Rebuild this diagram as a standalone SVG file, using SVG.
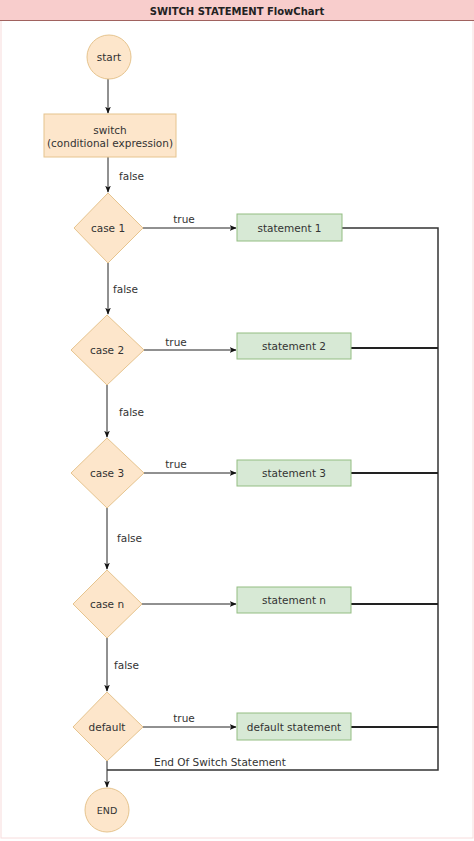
<svg xmlns="http://www.w3.org/2000/svg" width="474" height="841" viewBox="0 0 474 841">
<style>
.t{font-family:"DejaVu Sans",Verdana,sans-serif;font-size:10.5px;fill:#333;text-anchor:middle;dominant-baseline:central}
.l{font-family:"DejaVu Sans",Verdana,sans-serif;font-size:10.5px;fill:#333;dominant-baseline:central}
.o{fill:#fde6cb;stroke:#e6c48e;stroke-width:1}
.g{fill:#d7e9d5;stroke:#93bd82;stroke-width:1}
.c{fill:none;stroke:#222;stroke-width:1}
.k{fill:none;stroke:#222;stroke-width:2}
</style>
<defs>
<marker id="a" viewBox="0 0 10 10" refX="9" refY="5" markerWidth="7" markerHeight="7" markerUnits="userSpaceOnUse" orient="auto">
<path d="M0,1 L10,5 L0,9 L2.5,5 Z" fill="#111"/>
</marker>
</defs>
<rect x="0" y="0" width="474" height="841" fill="#fff"/>
<g id="container">
<rect x="1" y="1" width="472" height="837" fill="#fff" stroke="#f7dcdc" stroke-width="1"/>
<rect x="0" y="0" width="474" height="20" fill="#f8cdcc"/>
<line x1="0" y1="20.5" x2="474" y2="20.5" stroke="#a0625f" stroke-width="1"/>
<text class="t" x="237" y="11" style="font-weight:bold;font-size:10px;fill:#222">SWITCH STATEMENT FlowChart</text>
</g>
<g id="connectors">
<line class="c" x1="108" y1="79" x2="108" y2="113" marker-end="url(#a)"/>
<line class="c" x1="108" y1="157" x2="108" y2="192" marker-end="url(#a)"/>
<line class="c" x1="108" y1="263" x2="108" y2="314" marker-end="url(#a)"/>
<line class="c" x1="107" y1="385" x2="107" y2="437" marker-end="url(#a)"/>
<line class="c" x1="107" y1="508" x2="107" y2="569" marker-end="url(#a)"/>
<line class="c" x1="107" y1="638" x2="107" y2="691" marker-end="url(#a)"/>
<line class="c" x1="107" y1="761" x2="107" y2="787" marker-end="url(#a)"/>
<line class="c" x1="143" y1="228" x2="236" y2="228" marker-end="url(#a)"/>
<line class="c" x1="144" y1="350" x2="236" y2="350" marker-end="url(#a)"/>
<line class="c" x1="144" y1="473" x2="236" y2="473" marker-end="url(#a)"/>
<line class="c" x1="142" y1="604" x2="236" y2="604" marker-end="url(#a)"/>
<line class="c" x1="143" y1="727" x2="236" y2="727" marker-end="url(#a)"/>
<polyline fill="none" stroke="#333" stroke-width="1.5" points="342,228 438,228 438,770 107,770"/>
<line class="k" x1="351" y1="348" x2="438" y2="348"/>
<line class="k" x1="351" y1="473" x2="438" y2="473"/>
<line class="k" x1="351" y1="604" x2="438" y2="604"/>
<line class="k" x1="351" y1="727" x2="438" y2="727"/>
<text class="l" x="119" y="176">false</text>
<text class="l" x="113" y="289">false</text>
<text class="l" x="119" y="412">false</text>
<text class="l" x="117" y="538">false</text>
<text class="l" x="114" y="665">false</text>
<text class="t" x="184" y="219">true</text>
<text class="t" x="176" y="342">true</text>
<text class="t" x="176" y="464">true</text>
<text class="t" x="184" y="718">true</text>
<text class="l" x="154" y="762">End Of Switch Statement</text>
</g>
<g id="start"><circle class="o" cx="109" cy="57" r="22"/><text class="t" x="109" y="57">start</text></g>
<g id="switch"><rect class="o" x="44" y="114" width="132" height="43"/><text class="t" x="110" y="130">switch</text><text class="t" x="110" y="143">(conditional expression)</text></g>
<g id="case1"><polygon class="o" points="108,193 143,228 108,263 74,228"/><text class="t" x="108" y="228">case 1</text></g>
<g id="case2"><polygon class="o" points="107,315 144,350 107,385 71,350"/><text class="t" x="107" y="350">case 2</text></g>
<g id="case3"><polygon class="o" points="107,438 144,473 107,508 71,473"/><text class="t" x="107" y="473">case 3</text></g>
<g id="casen"><polygon class="o" points="107,570 142,604 107,638 73,604"/><text class="t" x="107" y="604">case n</text></g>
<g id="default"><polygon class="o" points="107,692 143,727 107,761 73,727"/><text class="t" x="107" y="727">default</text></g>
<g id="stmt1"><rect class="g" x="237" y="214" width="105" height="27"/><text class="t" x="289.5" y="228">statement 1</text></g>
<g id="stmt2"><rect class="g" x="237" y="333" width="114" height="26"/><text class="t" x="294" y="346">statement 2</text></g>
<g id="stmt3"><rect class="g" x="237" y="460" width="114" height="26"/><text class="t" x="294" y="473">statement 3</text></g>
<g id="stmtn"><rect class="g" x="237" y="587" width="114" height="26"/><text class="t" x="294" y="600">statement n</text></g>
<g id="stmtd"><rect class="g" x="237" y="713" width="114" height="27"/><text class="t" x="294" y="727">default statement</text></g>
<g id="end"><circle class="o" cx="107" cy="810" r="22"/><text class="t" x="107" y="810" style="font-size:9.5px">END</text></g>
</svg>
